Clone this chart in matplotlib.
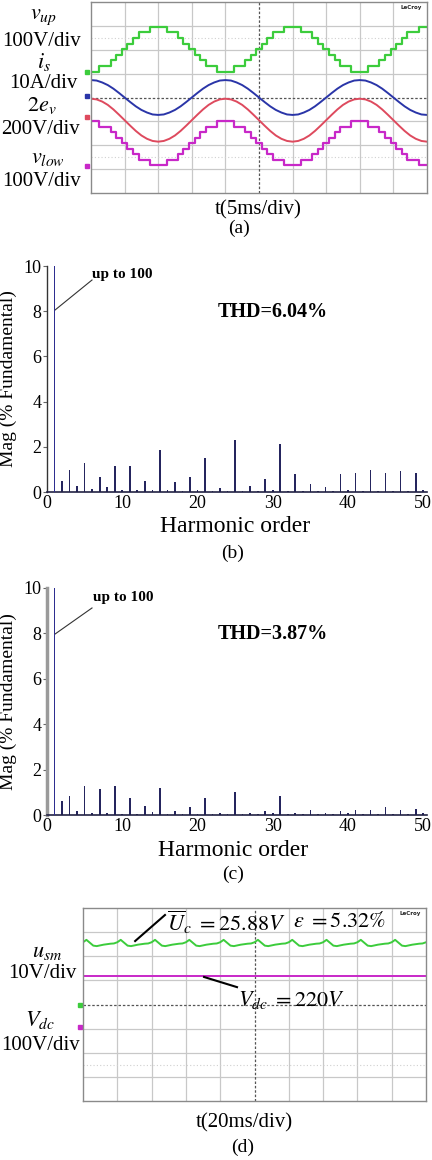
import matplotlib.pyplot as plt
import numpy as np

plt.rcParams['font.family'] = ['Liberation Serif', 'DejaVu Serif']
plt.rcParams['mathtext.fontset'] = 'stix'

W, H = 432, 1160

# (a) one fundamental period (4 div) sampled 24 times, values in divisions
vup_period = [1.08, 1.08, 1.32, 1.32, 1.55, 1.79, 2.02, 2.26, 2.49, 2.73, 2.73, 2.96,
              2.96, 2.96, 2.73, 2.73, 2.49, 2.26, 2.02, 1.79, 1.55, 1.32, 1.32, 1.08]
is_period = [0.73, 0.71, 0.63, 0.52, 0.37, 0.19, 0.0, -0.19, -0.37, -0.52, -0.63, -0.71,
             -0.73, -0.71, -0.63, -0.52, -0.37, -0.19, 0.0, 0.19, 0.37, 0.52, 0.63, 0.71]
ev_period = [-0.05, -0.08, -0.17, -0.31, -0.50, -0.72, -0.95, -1.18, -1.40, -1.59, -1.73, -1.82,
             -1.85, -1.82, -1.73, -1.59, -1.40, -1.18, -0.95, -0.72, -0.50, -0.31, -0.17, -0.08]
vlow_period = [-1.0, -1.0, -1.23, -1.23, -1.46, -1.69, -1.92, -2.14, -2.37, -2.60, -2.60, -2.83,
               -2.83, -2.83, -2.60, -2.60, -2.37, -2.14, -1.92, -1.69, -1.46, -1.23, -1.23, -1.0]

# (b) harmonic spectrum, THD=6.04%
orders_b = list(range(0, 51))
mag_b = [0.2, 100, 0.5, 0.98, 0.25, 1.3, 0.15, 0.65, 0.2, 1.16, 0.1,
         1.16, 0.1, 0.5, 0.08, 1.87, 0.08, 0.45, 0.06, 0.65, 0.08,
         1.5, 0.06, 0.18, 0.06, 2.28, 0.06, 0.25, 0.06, 0.57, 0.08,
         2.12, 0.06, 0.8, 0.06, 0.35, 0.06, 0.2, 0.06, 0.8, 0.1,
         0.83, 0.06, 0.98, 0.06, 0.83, 0.06, 0.95, 0.06, 0.83, 0.08]

# (c) harmonic spectrum, THD=3.87%
orders_c = list(range(0, 51))
mag_c = [0.15, 100, 0.6, 0.85, 0.16, 1.27, 0.08, 1.14, 0.1, 1.29, 0.06,
         0.73, 0.06, 0.4, 0.13, 1.18, 0.06, 0.19, 0.06, 0.34, 0.06,
         0.77, 0.06, 0.08, 0.06, 1.02, 0.06, 0.08, 0.06, 0.18, 0.1,
         0.82, 0.06, 0.1, 0.06, 0.22, 0.06, 0.08, 0.06, 0.19, 0.08,
         0.22, 0.06, 0.22, 0.06, 0.34, 0.06, 0.22, 0.06, 0.28, 0.1]

# (d) capacitor voltage ripple, one period (1 div) sampled 10 times, in divisions
usm_period = [2.58, 2.68, 2.56, 2.44, 2.42, 2.45, 2.48, 2.50, 2.52, 2.53]
vdc_level = 1.18


def px_axes(fig, left, top, right, bottom):
    return fig.add_axes([left / W, 1 - bottom / H, (right - left) / W, (bottom - top) / H])


def ftext(fig, x, y, s, **kw):
    kw.setdefault('ha', 'center')
    kw.setdefault('va', 'center')
    fig.text(x / W, 1 - y / H, s, **kw)


def scope_grid(ax, dotted):
    ax.set_xlim(0, 10)
    ax.set_ylim(-4, 4)
    for x in range(1, 10):
        if x != 5:
            ax.axvline(x, color='#c8c8c8', lw=0.9, zorder=0)
    for y in range(-3, 4):
        if y != 0:
            ax.axhline(y, color='#c8c8c8', lw=0.9, zorder=0)
    for y in dotted:
        ax.axhline(y, color='#d0d0d0', lw=0.8, ls=(0, (1, 2)), zorder=0)
    ax.axvline(5, color='#555555', lw=0.9, ls=(0, (2, 1.5)), zorder=1)
    ax.axhline(0, color='#555555', lw=0.9, ls=(0, (2, 1.5)), zorder=1)
    ax.set_xticks([])
    ax.set_yticks([])
    for s in ax.spines.values():
        s.set_color('#8a8a8a')
        s.set_linewidth(1.0)
    ax.text(0.985, 0.985, 'LeCroy', transform=ax.transAxes, ha='right', va='top',
            fontsize=4, fontweight='bold', color='#222222', family='DejaVu Sans')


def spectrum(ax, orders, mags, spine_col, spine_lw):
    ax.bar(orders, mags, width=0.22, color='#25255e', zorder=2)
    ax.bar([1], [mags[1]], width=0.2, color='#2e2e90', zorder=3)
    ax.set_xlim(0, 50.5)
    ax.set_ylim(0, 10)
    ax.set_yticks([0, 2, 4, 6, 8, 10])
    ax.set_xticks([0, 10, 20, 30, 40, 50])
    ax.tick_params(axis='y', direction='out', length=3, width=0.8, labelsize=13, pad=1, color='#666666')
    ax.tick_params(axis='x', length=0, labelsize=13, pad=2)
    ax.spines['top'].set_visible(False)
    ax.spines['right'].set_visible(False)
    ax.spines['left'].set_color(spine_col)
    ax.spines['left'].set_linewidth(spine_lw)
    ax.spines['bottom'].set_color('#222244')
    ax.spines['bottom'].set_linewidth(1.2)
    ax.set_ylabel('Mag (% Fundamental)', fontsize=14)
    ax.yaxis.set_label_coords(-0.079, 0.5)


fig = plt.figure(figsize=(W / 100, H / 100), dpi=100)

# ---------------- (a)
ax_a = px_axes(fig, 91, 2, 427, 193)
scope_grid(ax_a, [2.5, -2.5])
t_a = np.arange(61) * 4 / 24
ax_a.plot(t_a, np.tile(vup_period, 3)[:61], color='#3ccc3c', lw=1.6, drawstyle='steps-mid')
ax_a.plot(t_a, np.tile(is_period, 3)[:61], color='#2a35a8', lw=1.4)
ax_a.plot(t_a, np.tile(ev_period, 3)[:61], color='#de4a5e', lw=1.4)
ax_a.plot(t_a, np.tile(vlow_period, 3)[:61], color='#c828c8', lw=1.6, drawstyle='steps-mid')
for y, c in [(1.08, '#3ccc3c'), (0.05, '#2a35a8'), (-0.8, '#de4a5e'), (-2.85, '#c828c8')]:
    ax_a.plot([-0.12], [y], marker='s', ms=2.5, color=c, clip_on=False)

ftext(fig, 43, 17, r'$v_{up}$', fontsize=16)
ftext(fig, 42, 42, '100V/div', fontsize=15)
ftext(fig, 44, 62, r'$i_s$', fontsize=16)
ftext(fig, 43, 84, '10A/div', fontsize=15)
ftext(fig, 42, 106, r'$2e_v$', fontsize=16)
ftext(fig, 41, 130, '200V/div', fontsize=15)
ftext(fig, 48, 158, r'$v_{low}$', fontsize=16)
ftext(fig, 42, 182, '100V/div', fontsize=15)
ftext(fig, 258, 210, 't(5ms/div)', fontsize=15)
ftext(fig, 239, 228, '(a)', fontsize=14)

# ---------------- (b)
ax_b = px_axes(fig, 47, 266, 427, 492)
spectrum(ax_b, orders_b, mag_b, '#333333', 1.0)
ax_b.plot([1.06, 5.98], [8.05, 9.38], color='#333333', lw=0.8)
ftext(fig, 122, 275, 'up to 100', fontsize=11, fontweight='bold')
ftext(fig, 273, 312, 'THD=6.04%', fontsize=14.5, fontweight='bold')
ftext(fig, 235, 526, 'Harmonic order', fontsize=17)
ftext(fig, 233, 553, '(b)', fontsize=14)

# ---------------- (c)
ax_c = px_axes(fig, 47, 588, 427, 815)
spectrum(ax_c, orders_c, mag_c, '#9a9a9a', 2.5)
ax_c.plot([1.06, 5.98], [7.97, 9.12], color='#333333', lw=0.8)
ftext(fig, 123, 597, 'up to 100', fontsize=11, fontweight='bold')
ftext(fig, 273, 634, 'THD=3.87%', fontsize=14.5, fontweight='bold')
ftext(fig, 233, 850, 'Harmonic order', fontsize=17)
ftext(fig, 233, 874, '(c)', fontsize=14)

# ---------------- (d)
ax_d = px_axes(fig, 83, 908, 426, 1101)
scope_grid(ax_d, [-2.5])
t_d = np.arange(101) * 0.1
ax_d.plot(t_d, np.tile(usm_period, 11)[:101], color='#3ccc3c', lw=1.4)
ax_d.plot([0, 10], [vdc_level, vdc_level], color='#c828c8', lw=1.4)
ax_d.plot([-0.08], [0.0], marker='s', ms=2.5, color='#3ccc3c', clip_on=False)
ax_d.plot([-0.08], [-0.95], marker='s', ms=2.5, color='#c828c8', clip_on=False)
ax_d.plot([2.39, 1.52], [3.71, 2.63], color='black', lw=1.5, clip_on=False)
ax_d.plot([3.53, 4.49], [1.14, 0.72], color='black', lw=1.5, clip_on=False)
ftext(fig, 167, 922, r'$\overline{U}_c\ =25.88V$', fontsize=16, ha='left')
ftext(fig, 293, 922, r'$\varepsilon\ =5.32\%$', fontsize=16, ha='left')
ftext(fig, 238, 1000, r'$V_{dc}\ =220V$', fontsize=16, ha='left')

ftext(fig, 47, 952, r'$u_{sm}$', fontsize=16)
ftext(fig, 42, 973, '10V/div', fontsize=15)
ftext(fig, 40, 1020, r'$V_{dc}$', fontsize=16)
ftext(fig, 41, 1045, '100V/div', fontsize=15)
ftext(fig, 244, 1123, 't(20ms/div)', fontsize=15)
ftext(fig, 243, 1147, '(d)', fontsize=14)

plt.savefig('out.png', dpi=100)
